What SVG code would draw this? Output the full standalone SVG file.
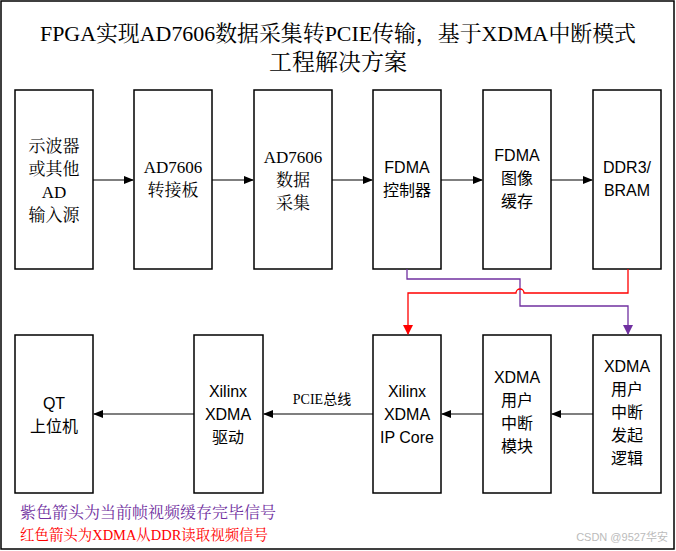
<svg xmlns="http://www.w3.org/2000/svg" width="676" height="551" viewBox="0 0 676 551">
<style>
.b{fill:#fff;stroke:#000;stroke-width:1.5}
.s{font-family:"Liberation Serif","Noto Serif CJK SC","Noto Sans CJK SC",serif;font-size:17px;fill:#000;text-anchor:middle}
.n{font-family:"Liberation Sans","Noto Sans CJK SC",sans-serif;font-size:16px;fill:#000;text-anchor:middle}
.c{fill:none;stroke:#000;stroke-width:1.2}
</style>
<defs>
<marker id="ak" markerWidth="10" markerHeight="8" refX="9" refY="4" orient="auto" markerUnits="userSpaceOnUse"><path d="M0,0L10,4L0,8z" fill="#000"/></marker>
<marker id="ar" markerWidth="10" markerHeight="12" refX="9" refY="5" orient="auto" markerUnits="userSpaceOnUse"><path d="M0,0L10,5L0,10z" fill="#f00"/></marker>
<marker id="ap" markerWidth="10" markerHeight="12" refX="9" refY="5" orient="auto" markerUnits="userSpaceOnUse"><path d="M0,0L10,5L0,10z" fill="#7030a0"/></marker>
</defs>
<rect x="1" y="1" width="673" height="548" fill="#fff" stroke="#000" stroke-width="1.5"/>
<text class="s" x="338" y="41" style="font-size:22px" textLength="596" lengthAdjust="spacingAndGlyphs">FPGA实现AD7606数据采集转PCIE传输，基于XDMA中断模式</text>
<text class="s" x="338" y="70" style="font-size:23px">工程解决方案</text>
<g id="n1"><rect class="b" x="15" y="90" width="78" height="179"/><text class="s" x="54" y="152">示波器</text><text class="s" x="54" y="175">或其他</text><text class="s" x="54" y="198">AD</text><text class="s" x="54" y="221">输入源</text></g>
<g id="n2"><rect class="b" x="134" y="90" width="78" height="179"/><text class="s" x="173" y="173">AD7606</text><text class="s" x="173" y="196">转接板</text></g>
<g id="n3"><rect class="b" x="254" y="90" width="78" height="179"/><text class="s" x="293" y="163">AD7606</text><text class="s" x="293" y="186">数据</text><text class="s" x="293" y="209">采集</text></g>
<g id="n4"><rect class="b" x="373" y="90" width="68" height="179"/><text class="n" x="407" y="173">FDMA</text><text class="n" x="407" y="196">控制器</text></g>
<g id="n5"><rect class="b" x="483" y="90" width="68" height="179"/><text class="n" x="517" y="161">FDMA</text><text class="n" x="517" y="184">图像</text><text class="n" x="517" y="207">缓存</text></g>
<g id="n6"><rect class="b" x="593" y="90" width="68" height="179"/><text class="n" x="627" y="173">DDR3/</text><text class="n" x="627" y="196">BRAM</text></g>
<g id="n7"><rect class="b" x="15" y="335" width="78" height="158"/><text class="n" x="54" y="409">QT</text><text class="n" x="54" y="432">上位机</text></g>
<g id="n8"><rect class="b" x="194" y="335" width="69" height="158"/><text class="n" x="228" y="397">Xilinx</text><text class="n" x="228" y="420">XDMA</text><text class="n" x="228" y="443">驱动</text></g>
<g id="n9"><rect class="b" x="373" y="335" width="68" height="158"/><text class="n" x="407" y="397">Xilinx</text><text class="n" x="407" y="420">XDMA</text><text class="n" x="407" y="443">IP Core</text></g>
<g id="n10"><rect class="b" x="483" y="335" width="68" height="158"/><text class="n" x="517" y="383">XDMA</text><text class="n" x="517" y="406">用户</text><text class="n" x="517" y="429">中断</text><text class="n" x="517" y="452">模块</text></g>
<g id="n11"><rect class="b" x="593" y="335" width="68" height="158"/><text class="n" x="627" y="372">XDMA</text><text class="n" x="627" y="395">用户</text><text class="n" x="627" y="418">中断</text><text class="n" x="627" y="441">发起</text><text class="n" x="627" y="464">逻辑</text></g>
<g id="connectors">
<path class="c" d="M93,180H133" marker-end="url(#ak)"/>
<path class="c" d="M212,180H253" marker-end="url(#ak)"/>
<path class="c" d="M332,180H372" marker-end="url(#ak)"/>
<path class="c" d="M441,180H482" marker-end="url(#ak)"/>
<path class="c" d="M551,180H592" marker-end="url(#ak)"/>
<path class="c" d="M593,414H552" marker-end="url(#ak)"/>
<path class="c" d="M483,414H442" marker-end="url(#ak)"/>
<path class="c" d="M373,414H264" marker-end="url(#ak)"/>
<path class="c" d="M194,414H94" marker-end="url(#ak)"/>
<text x="322" y="404" font-family="Liberation Serif,Noto Sans CJK SC,serif" font-size="14" text-anchor="middle">PCIE总线</text>
<path d="M407,269V279H520V306H628V334" fill="none" stroke="#7030a0" stroke-width="1.3" marker-end="url(#ap)"/>
<path d="M628,269V293H524A4,4 0 0 0 516,293H408V334" fill="none" stroke="#f00" stroke-width="1.3" marker-end="url(#ar)"/>
</g>
<text x="20" y="518" font-family="Liberation Serif,Noto Serif CJK SC,Noto Sans CJK SC,serif" font-size="16" fill="#7030a0">紫色箭头为当前帧视频缓存完毕信号</text>
<text x="20" y="540" font-family="Liberation Serif,Noto Serif CJK SC,Noto Sans CJK SC,serif" font-size="15" fill="#f00" textLength="248" lengthAdjust="spacingAndGlyphs">红色箭头为XDMA从DDR读取视频信号</text>
<text x="668" y="541" font-family="Liberation Sans,Noto Sans CJK SC,sans-serif" font-size="11" fill="#bbb" text-anchor="end">CSDN @9527华安</text>
</svg>
